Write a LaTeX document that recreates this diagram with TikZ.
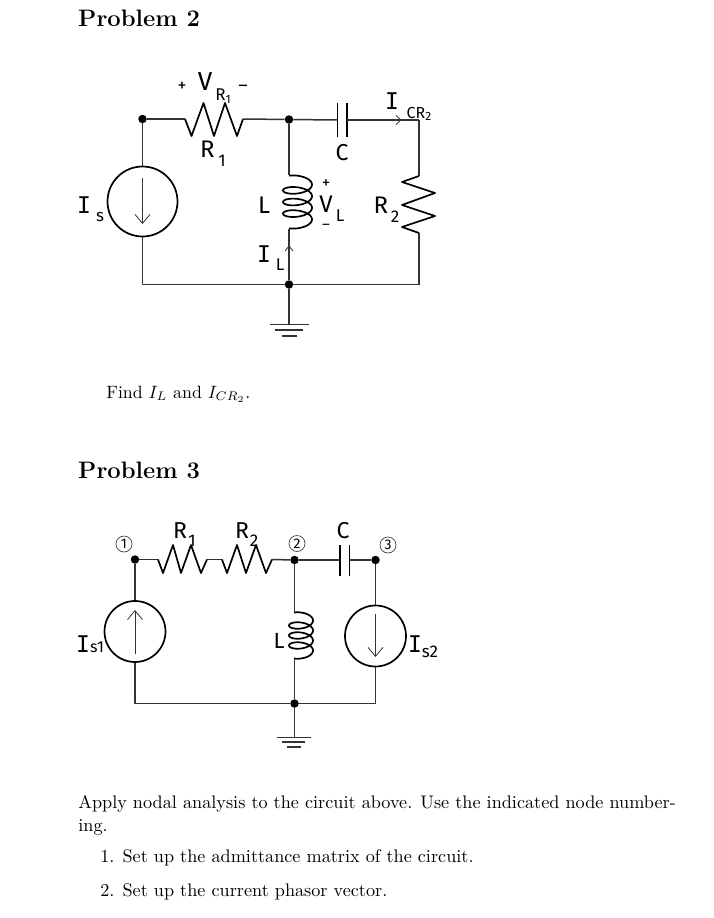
\documentclass[tikz,border=0pt]{standalone}
\usepackage{fontspec}
\usetikzlibrary{arrows.meta}
\newfontfamily\cf{Fira Sans}
\newfontfamily\cfi{DejaVu Sans Mono}
\definecolor{wire}{gray}{0.2}
\newcommand{\fs}[1]{\fontsize{#1}{#1}\selectfont}
\tikzset{
 x=1pt,y=-1pt,
 wirel/.style={draw=wire,line width=1.5pt,line join=round},
 zig/.style={draw=black,line width=1.7pt,line join=round},
 plate/.style={draw=black,line width=1.8pt},
 thin arrow/.style={draw=wire,line width=0.8pt,-{Straight Barb[length=9pt,width=15pt]}},
 barb/.style={draw=wire,line width=.8pt},
 dot/.style={circle,fill=black,inner sep=0pt,minimum size=8.5pt},
 src/.style={circle,draw=black,line width=1.7pt,inner sep=0pt,minimum size=#1},
 txt/.style={anchor=base west,inner sep=0pt,text=black},
 bodytxt/.style={txt,font=\fs{10},scale=1.82},
 head/.style={txt,font=\fs{23.8}\bfseries},
 lab/.style={anchor=base,inner sep=0pt,text=black,font=\cf\fs{#1}},
 lab/.default=22,
 inum/.style={anchor=base,inner sep=0pt,text=black,font=\cfi\fs{23}},
 num/.style={circle,draw=black!75,line width=.7pt,inner sep=0pt,minimum size=16pt,font=\cf\fs{14}}
}
\begin{document}
\begin{tikzpicture}
\useasboundingbox (0,0) rectangle (714,918);
% ---- text
\node[head] (h2) at (78,27) {Problem 2};
\node[bodytxt,scale=0.98] (find) at (106,398) {Find $I_L$ and $I_{CR_2}$.};
\node[head] (h3) at (78,478) {Problem 3};
\node[bodytxt] (a1) at (78,808) {Apply nodal analysis to the circuit above. Use the indicated node number-};
\node[bodytxt] (a2) at (78,831) {ing.};
\node[bodytxt] (l1) at (100,862) {1. Set up the admittance matrix of the circuit.};
\node[bodytxt] (l2) at (100,896) {2. Set up the current phasor vector.};
% ---- circuit 1
\node[dot] (a) at (142.5,119) {};
\node[dot] (b) at (289,119.5) {};
\node[dot] (g) at (289,284.5) {};
\coordinate (tr) at (419,120);
\coordinate (bl) at (142.5,284.5);
\coordinate (br) at (419,284.5);
\node[src=70pt] (s) at (142.5,201.5) {};
\draw[wirel] (a) -- (s.north);
\draw[wirel] (s.south) -- (bl) -- (g) -- (br);
\draw[thin arrow] (142.5,178) -- (142.5,224);
\draw[wirel] (a) -- (185,119);
\draw[zig] (185,119) -- (191.5,136) -- (203.5,103) -- (214,136) -- (225,103) -- (237,136) -- (243,119);
\draw[wirel] (243,119) -- (b);
\draw[wirel] (b) -- (337.5,120);
\draw[plate] (337.5,103) -- (337.5,137);
\draw[plate] (347,103) -- (347,137);
\draw[wirel] (347,120) -- (tr);
\draw[barb] (396,115.5) -- (401,120) -- (396,124.5);
\draw[wirel] (tr) -- (419,176);
\draw[zig] (419,176) -- (402,182) -- (435,193) -- (402,205) -- (435,216) -- (402,227) -- (419,233);
\draw[wirel] (419,233) -- (br);
\draw[wirel] (b) -- (289,175);
\draw[zig,smooth] plot[domain=-35:1295,samples=160] ({297.5+14.5*sin(\x)},{202+11.6*(\x-630)/360-6*cos(\x)});
\draw[wirel] (289,229) -- (g);
\draw[barb] (285,251) -- (289,246) -- (293,251);
\draw[wirel] (g) -- (289,324.5);
\draw[wirel] (270,324.5) -- (309,324.5);
\draw[wirel] (275,330) -- (303,330);
\draw[wirel] (282,336) -- (297,336);
% labels 1
\node[inum] (li) at (84,213) {I};
\node[lab=17] (lis) at (100,221.5) {s};
\node[lab=18] (pl) at (182,91) {+};
\node[lab=26] (lvr) at (205,90) {V};
\node[lab=17] (lvr1) at (223,100) {R\raisebox{-3pt}{\fs{12}1}};
\node[lab=18] (mi) at (243,91) {–};
\node[lab=24] (lr1) at (207.5,157) {R};
\node[lab=17] (lr11) at (222,166) {1};
\node[lab=23] (lc) at (342,160.5) {C};
\node[inum] (lI) at (392,109) {I};
\node[lab=16] (lcr) at (419,118) {CR\raisebox{-2pt}{\fs{12}2}};
\node[lab=24] (ll) at (264,213) {L};
\node[lab=17] (vp) at (326,188) {+};
\node[lab=24] (lv) at (326,212) {V};
\node[lab=17] (lvl) at (340,221) {L};
\node[lab=15] (vm) at (326,229) {–};
\node[lab=24] (lr2) at (381,213) {R};
\node[lab=17] (lr22) at (395,222) {2};
\node[inum] (lil) at (264,262) {I};
\node[lab=17] (lill) at (280,270) {L};
% ---- circuit 2
\node[dot] (n1) at (135,559.5) {};
\node[dot] (n2) at (294.5,560) {};
\node[dot] (n3) at (375.5,560) {};
\node[dot] (g2) at (294.5,703.5) {};
\coordinate (bl2) at (135,703.5);
\coordinate (br2) at (375.5,703.5);
\node[src=61pt] (s1) at (135,631.5) {};
\node[src=61pt] (s2) at (375.5,636) {};
\draw[wirel] (n1) -- (s1.north);
\draw[wirel] (s1.south) -- (bl2) -- (g2) -- (br2) -- (s2.south);
\draw[wirel] (n3) -- (s2.north);
\draw[thin arrow] (135,654) -- (135,610);
\draw[thin arrow] (375.5,614) -- (375.5,657);
\draw[wirel] (n1) -- (158,559.5);
\draw[zig] (158,559.5) -- (163,573) -- (173,545) -- (181,573) -- (191,545) -- (201,573) -- (207,559.5);
\draw[wirel] (207,559.5) -- (222,559.5);
\draw[zig] (222,559.5) -- (227,573) -- (237,545) -- (246,573) -- (256,545) -- (266,573) -- (272,559.5);
\draw[wirel] (272,559.5) -- (n2);
\draw[wirel] (n2) -- (340,560);
\draw[plate] (340,545) -- (340,576);
\draw[plate] (349.5,545) -- (349.5,576);
\draw[wirel] (349.5,560) -- (n3);
\draw[wirel] (n2) -- (294.5,612);
\draw[zig,smooth] plot[domain=-35:1295,samples=160] ({301+12*sin(\x)},{635.5+10*(\x-630)/360-5.5*cos(\x)});
\draw[wirel] (294.5,659) -- (g2);
\draw[wirel] (g2) -- (294.5,737.5);
\draw[wirel] (277,737.5) -- (311,737.5);
\draw[wirel] (282,742) -- (305,742);
\draw[wirel] (287,747) -- (301,747);
% labels 2
\node[num] (c1) at (124,544) {1};
\node[num] (c2) at (297,543.5) {2};
\node[num] (c3) at (388,545) {3};
\node[inum] (li1) at (83,652) {I};
\node[lab=16] (li1s) at (97,652) {s1};
\node[inum] (li2) at (415,652) {I};
\node[lab=17] (li2s) at (430,657) {s2};
\node[lab=23] (r1) at (180,538) {R};
\node[lab=17] (r1s) at (192,546) {1};
\node[lab=23] (r2) at (242,538) {R};
\node[lab=17] (r2s) at (254,546) {2};
\node[lab=23] (cc) at (343,538) {C};
\node[lab=22] (ll2) at (279,648) {L};
\end{tikzpicture}
\end{document}
